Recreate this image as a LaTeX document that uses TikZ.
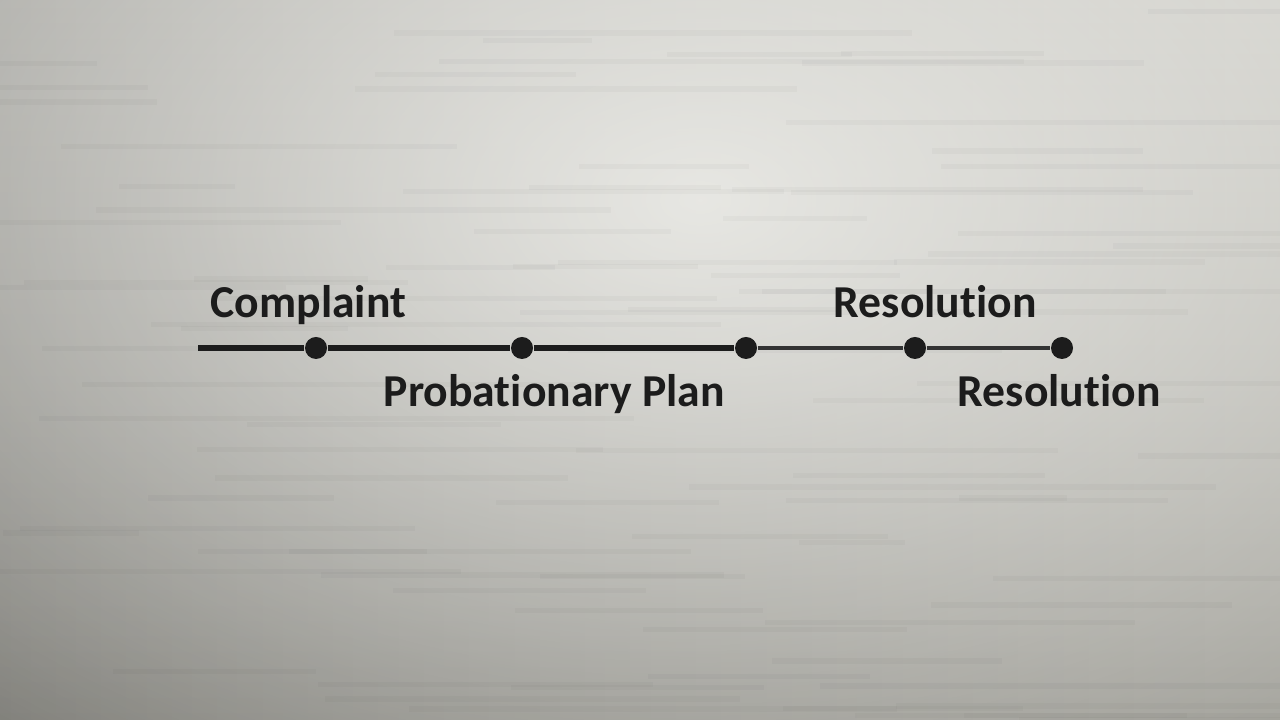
\documentclass[tikz,border=0pt]{standalone}
\usepackage{fontspec}
\setmainfont[Ligatures=NoCommon]{Carlito}
\usetikzlibrary{positioning,fadings}
\tikzfading[name=glow, inner color=transparent!0, outer color=transparent!100]
\definecolor{bgtop}{HTML}{CAC9C3}
\definecolor{bgbot}{HTML}{9B9A93}
\definecolor{glowc}{HTML}{EEEEEA}
\definecolor{ink}{HTML}{1C1C1C}

\begin{document}
\begin{tikzpicture}[
    dot/.style={circle, fill=ink, inner sep=0pt, minimum size=0.22cm},
    lbl/.style={font=\bfseries\fontsize{13}{15}\selectfont, text=ink, inner sep=0pt, anchor=base west}]
    \useasboundingbox (0,0) rectangle (12.8,7.2);
    % backdrop
    \begin{scope}
      \clip (0,0) rectangle (12.8,7.2);
      \shade [top color=bgtop, bottom color=bgbot] (0,0) rectangle (12.8,7.2);
      \fill [black, path fading=east, opacity=0.22] (0,0) rectangle (12.8,7.2);
      \fill [glowc, path fading=glow, opacity=0.9] (7.0,5.2) ellipse (12 and 7.5);
      \pgfmathsetseed{11}
      \foreach \i in {1,...,90}{
        \pgfmathsetmacro\yy{rnd*7.2}
        \pgfmathsetmacro\xx{rnd*12.8-1}
        \pgfmathsetmacro\ll{1+rnd*5}
        \draw [black, opacity=0.025, line width=1.5pt] (\xx,\yy) --++ (\ll,0);
      }
    \end{scope}
    % timeline
    \coordinate (start) at (1.98,3.72);
    \node [dot] (complaint) at (3.16,3.72) {};
    \node [dot] (plan) at (5.22,3.72) {};
    \node [dot] (mid) at (7.46,3.72) {};
    \node [dot] (resA) at (9.15,3.72) {};
    \node [dot] (resB) at (10.62,3.72) {};
    \draw [ink, line width=1.6pt] (start) -- (complaint) -- (plan) -- (mid);
    \draw [ink!90, line width=1.1pt] (mid) -- (resA) -- (resB);
    \node [lbl] (lcomplaint) at (2.10,4.02) {Complaint};
    \node [lbl] (lplan) at (3.83,3.13) {Probationary Plan};
    \node [lbl] (lresA) at (8.33,4.02) {Resolution};
    \node [lbl] (lresB) at (9.57,3.13) {Resolution};
\end{tikzpicture}
\end{document}
